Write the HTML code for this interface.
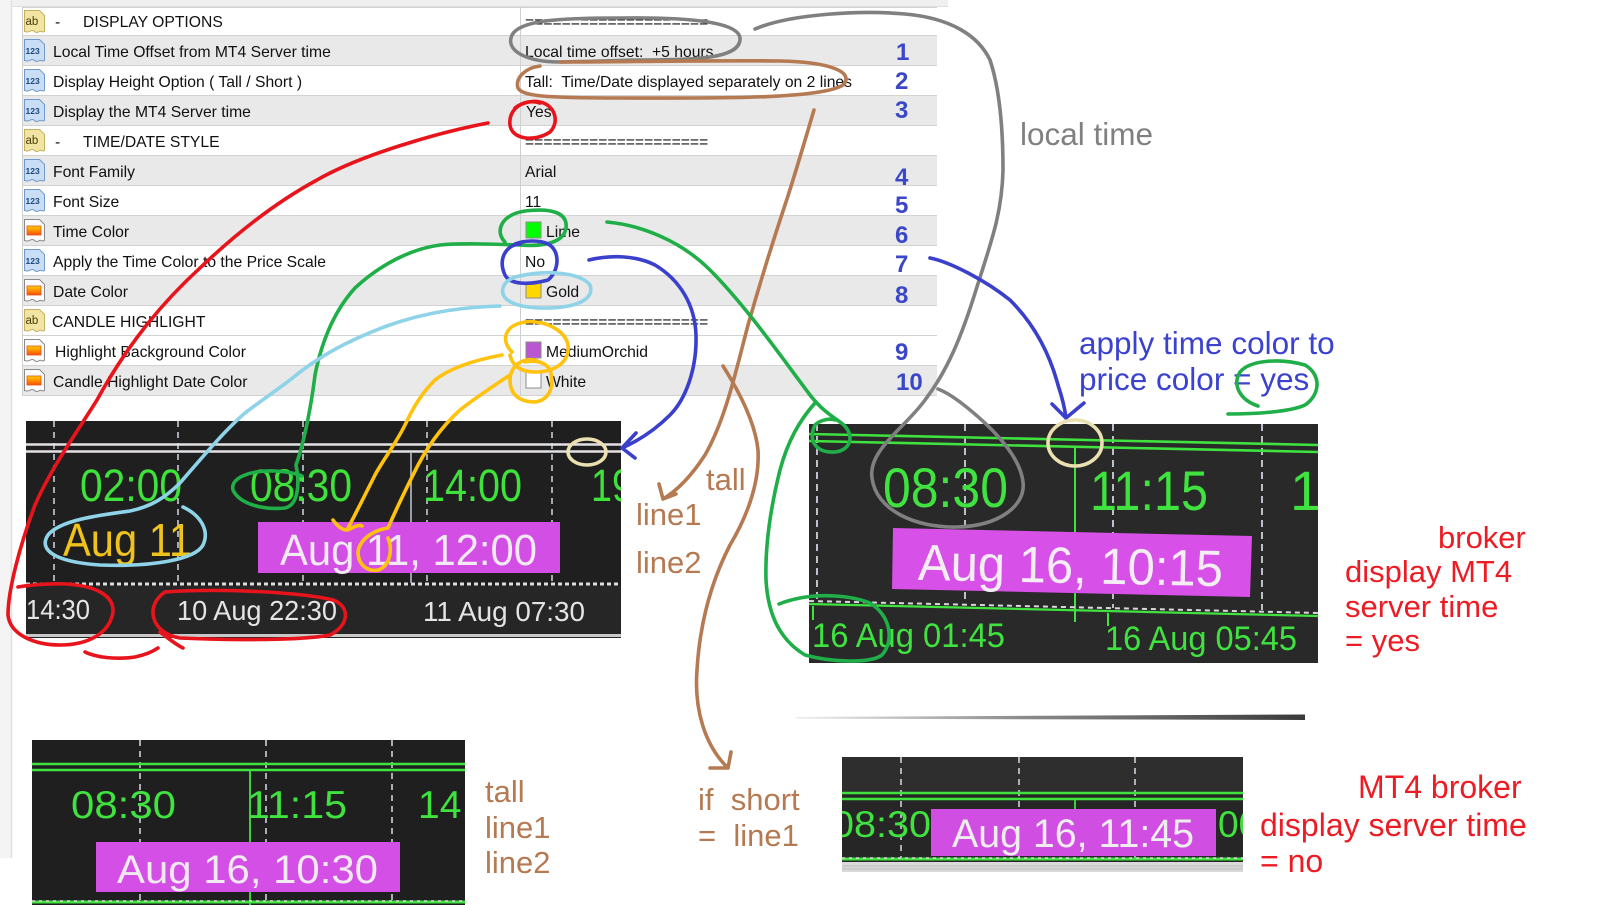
<!DOCTYPE html>
<html><head><meta charset="utf-8">
<style>
html,body{margin:0;padding:0;background:#fff;width:1612px;height:905px;overflow:hidden}
svg{display:block}
text{font-family:"Liberation Sans",Arial,sans-serif}
</style></head><body>
<svg width="1612" height="905" viewBox="0 0 1612 905" xmlns="http://www.w3.org/2000/svg">
<defs>
<linearGradient id="og" x1="0" y1="0" x2="0" y2="1"><stop offset="0" stop-color="#ffd400"/><stop offset="1" stop-color="#ff4a00"/></linearGradient>
<linearGradient id="dv" x1="0" x2="1"><stop offset="0" stop-color="#eeeeee"/><stop offset="0.45" stop-color="#8a8a8a"/><stop offset="1" stop-color="#3a3a3a"/></linearGradient>
<clipPath id="c1"><rect x="26" y="421" width="595" height="217"/></clipPath>
<clipPath id="c2"><rect x="809" y="424" width="509" height="239"/></clipPath>
<clipPath id="c3"><rect x="32" y="740" width="433" height="165"/></clipPath>
<clipPath id="c4"><rect x="842" y="757" width="401" height="115"/></clipPath>
</defs>

<!-- page chrome -->
<rect x="0" y="0" width="11" height="858" fill="#f4f4f4"/>
<path d="M11.5 0V858" stroke="#e0e0e0" stroke-width="1.5"/>
<rect x="12" y="0" width="936" height="6" fill="#f0f0f0"/>
<path d="M12 6.5H948" stroke="#dedede"/>

<!-- table rows -->
<g>
<rect x="22" y="35" width="915" height="30" fill="#e9e9e9"/>
<rect x="22" y="95" width="915" height="30" fill="#e9e9e9"/>
<rect x="22" y="155" width="915" height="30" fill="#e9e9e9"/>
<rect x="22" y="215" width="915" height="30" fill="#e9e9e9"/>
<rect x="22" y="275" width="915" height="30" fill="#e9e9e9"/>
<rect x="22" y="365" width="915" height="30" fill="#e9e9e9"/>
<path d="M22 7.5H937M22 35.5H937M22 65.5H937M22 95.5H937M22 125.5H937M22 155.5H937M22 185.5H937M22 215.5H937M22 245.5H937M22 275.5H937M22 305.5H937M22 335.5H937M22 365.5H937M22 395.5H937" stroke="#d2d2d2" stroke-width="1"/>
<path d="M22.5 7V395M520.5 7V395" stroke="#cfcfcf" stroke-width="1"/>
</g>

<!-- icons -->
<g>
<g transform="translate(23,9)"><path d="M1.5 1.5h15l5 5v16c-2 1.5-3.5-1-5 0s-3.5 1.5-5 0-3.5-1-5 0-3 .5-5 0z" fill="#f1e5a3" stroke="#c5b060"/><text x="2.5" y="16" font-size="11.5" fill="#4a3c08">ab</text></g>
<g transform="translate(23,128)"><path d="M1.5 1.5h15l5 5v16c-2 1.5-3.5-1-5 0s-3.5 1.5-5 0-3.5-1-5 0-3 .5-5 0z" fill="#f1e5a3" stroke="#c5b060"/><text x="2.5" y="16" font-size="11.5" fill="#4a3c08">ab</text></g>
<g transform="translate(23,308)"><path d="M1.5 1.5h15l5 5v16c-2 1.5-3.5-1-5 0s-3.5 1.5-5 0-3.5-1-5 0-3 .5-5 0z" fill="#f1e5a3" stroke="#c5b060"/><text x="2.5" y="16" font-size="11.5" fill="#4a3c08">ab</text></g>
<g transform="translate(23,38)"><path d="M1.5 1.5h15l5 5v16c-2 1.5-3.5-1-5 0s-3.5 1.5-5 0-3.5-1-5 0-3 .5-5 0z" fill="#c9def4" stroke="#6f9acb"/><text x="2.5" y="16" font-size="8.5" font-weight="bold" fill="#1d4780">123</text></g>
<g transform="translate(23,68)"><path d="M1.5 1.5h15l5 5v16c-2 1.5-3.5-1-5 0s-3.5 1.5-5 0-3.5-1-5 0-3 .5-5 0z" fill="#c9def4" stroke="#6f9acb"/><text x="2.5" y="16" font-size="8.5" font-weight="bold" fill="#1d4780">123</text></g>
<g transform="translate(23,98)"><path d="M1.5 1.5h15l5 5v16c-2 1.5-3.5-1-5 0s-3.5 1.5-5 0-3.5-1-5 0-3 .5-5 0z" fill="#c9def4" stroke="#6f9acb"/><text x="2.5" y="16" font-size="8.5" font-weight="bold" fill="#1d4780">123</text></g>
<g transform="translate(23,158)"><path d="M1.5 1.5h15l5 5v16c-2 1.5-3.5-1-5 0s-3.5 1.5-5 0-3.5-1-5 0-3 .5-5 0z" fill="#c9def4" stroke="#6f9acb"/><text x="2.5" y="16" font-size="8.5" font-weight="bold" fill="#1d4780">123</text></g>
<g transform="translate(23,188)"><path d="M1.5 1.5h15l5 5v16c-2 1.5-3.5-1-5 0s-3.5 1.5-5 0-3.5-1-5 0-3 .5-5 0z" fill="#c9def4" stroke="#6f9acb"/><text x="2.5" y="16" font-size="8.5" font-weight="bold" fill="#1d4780">123</text></g>
<g transform="translate(23,248)"><path d="M1.5 1.5h15l5 5v16c-2 1.5-3.5-1-5 0s-3.5 1.5-5 0-3.5-1-5 0-3 .5-5 0z" fill="#c9def4" stroke="#6f9acb"/><text x="2.5" y="16" font-size="8.5" font-weight="bold" fill="#1d4780">123</text></g>
<g transform="translate(23,218)"><path d="M1.5 1.5h15l5 5v16c-2 1.5-3.5-1-5 0s-3.5 1.5-5 0-3.5-1-5 0-3 .5-5 0z" fill="#fbfbfb" stroke="#8a8a8a"/><rect x="4" y="8" width="14" height="9" fill="url(#og)" stroke="#e0541a" stroke-width="0.8"/></g>
<g transform="translate(23,278)"><path d="M1.5 1.5h15l5 5v16c-2 1.5-3.5-1-5 0s-3.5 1.5-5 0-3.5-1-5 0-3 .5-5 0z" fill="#fbfbfb" stroke="#8a8a8a"/><rect x="4" y="8" width="14" height="9" fill="url(#og)" stroke="#e0541a" stroke-width="0.8"/></g>
<g transform="translate(23,338)"><path d="M1.5 1.5h15l5 5v16c-2 1.5-3.5-1-5 0s-3.5 1.5-5 0-3.5-1-5 0-3 .5-5 0z" fill="#fbfbfb" stroke="#8a8a8a"/><rect x="4" y="8" width="14" height="9" fill="url(#og)" stroke="#e0541a" stroke-width="0.8"/></g>
<g transform="translate(23,368)"><path d="M1.5 1.5h15l5 5v16c-2 1.5-3.5-1-5 0s-3.5 1.5-5 0-3.5-1-5 0-3 .5-5 0z" fill="#fbfbfb" stroke="#8a8a8a"/><rect x="4" y="8" width="14" height="9" fill="url(#og)" stroke="#e0541a" stroke-width="0.8"/></g>
</g>

<!-- labels -->
<g font-size="15.7" fill="#111">
<text x="55" y="27">-</text><text x="83" y="27">DISPLAY OPTIONS</text>
<text x="53" y="57">Local Time Offset from MT4 Server time</text>
<text x="53" y="87">Display Height Option ( Tall / Short )</text>
<text x="53" y="117">Display the MT4 Server time</text>
<text x="55" y="147">-</text><text x="83" y="147">TIME/DATE STYLE</text>
<text x="53" y="177">Font Family</text>
<text x="53" y="207">Font Size</text>
<text x="53" y="237">Time Color</text>
<text x="53" y="267">Apply the Time Color to the Price Scale</text>
<text x="53" y="297">Date Color</text>
<text x="52" y="327">CANDLE HIGHLIGHT</text>
<text x="55" y="357">Highlight Background Color</text>
<text x="53" y="387">Candle Highlight Date Color</text>
</g>
<!-- values -->
<g font-size="15.7" fill="#111">
<text x="525" y="27">====================</text>
<text x="525" y="57">Local time offset:&#160; +5 hours</text>
<text x="525" y="87">Tall:&#160; Time/Date displayed separately on 2 lines</text>
<text x="526" y="117">Yes</text>
<text x="525" y="147">====================</text>
<text x="525" y="177">Arial</text>
<text x="525" y="207">11</text>
<rect x="526" y="222" width="15" height="16" fill="#00ff00" stroke="#8c8c8c"/><text x="546" y="237">Lime</text>
<text x="525" y="267">No</text>
<rect x="526" y="282" width="15" height="16" fill="#ffd700" stroke="#8c8c8c"/><text x="546" y="297">Gold</text>
<text x="525" y="327">====================</text>
<rect x="526" y="342" width="15" height="16" fill="#ba55d3" stroke="#8c8c8c"/><text x="546" y="357">MediumOrchid</text>
<rect x="526" y="372" width="15" height="16" fill="#ffffff" stroke="#8c8c8c"/><text x="546" y="387">White</text>
</g>
<!-- numbers -->
<g font-size="24" font-weight="bold" fill="#3b47c9">
<text x="896" y="60">1</text>
<text x="895" y="89">2</text>
<text x="895" y="118">3</text>
<text x="895" y="185">4</text>
<text x="895" y="213">5</text>
<text x="895" y="243">6</text>
<text x="895" y="272">7</text>
<text x="895" y="303">8</text>
<text x="895" y="360">9</text>
<text x="896" y="390">10</text>
</g>

<!-- CHART 1 -->
<g clip-path="url(#c1)">
<rect x="26" y="421" width="595" height="217" fill="#1f1f1f"/>
<rect x="26" y="586" width="595" height="52" fill="#262626"/>
<path d="M54 421V583M178 421V583M303 421V583M427 421V583M552 421V583" stroke="#c9ccd8" stroke-width="1.6" stroke-dasharray="6 5"/>
<path d="M411 453V583" stroke="#b8bccc" stroke-width="1.6"/>
<path d="M26 444.5H621M26 451.5H621" stroke="#e4e0e4" stroke-width="2.6"/>
<g font-size="45" fill="#3ee23a">
<text x="80" y="501" textLength="102" lengthAdjust="spacingAndGlyphs">02:00</text>
<text x="250" y="501" textLength="102" lengthAdjust="spacingAndGlyphs">08:30</text>
<text x="423" y="501" textLength="99" lengthAdjust="spacingAndGlyphs">14:00</text>
<text x="591" y="501" textLength="42" lengthAdjust="spacingAndGlyphs">19</text>
</g>
<text x="63" y="556" font-size="46" fill="#f0c21c" textLength="129" lengthAdjust="spacingAndGlyphs">Aug 11</text>
<rect x="258" y="522" width="302" height="51" fill="#d24ee4"/>
<text x="280" y="565" font-size="44" fill="#f2eaf2" textLength="257" lengthAdjust="spacingAndGlyphs">Aug 11, 12:00</text>
<path d="M26 584H621" stroke="#dddddd" stroke-width="3" stroke-dasharray="4 3"/>
<g font-size="28" fill="#e4e4e4">
<text x="26" y="619" textLength="64" lengthAdjust="spacingAndGlyphs">14:30</text>
<text x="177" y="620" textLength="160" lengthAdjust="spacingAndGlyphs">10 Aug 22:30</text>
<text x="423" y="621" textLength="162" lengthAdjust="spacingAndGlyphs">11 Aug 07:30</text>
</g>
<path d="M26 635.5H621" stroke="#c8c8c8" stroke-width="3"/>
</g>

<!-- CHART 2 -->
<g clip-path="url(#c2)">
<rect x="809" y="424" width="509" height="239" fill="#292929"/>
<path d="M817 424V605M965 424V605M1113 424V608M1262 424V610" stroke="#cdd0dc" stroke-width="1.8" stroke-dasharray="7 5"/>
<path d="M809 434L1318 445M809 441L1318 452" stroke="#3fe23f" stroke-width="2.6"/>
<path d="M1075 448V612" stroke="#3fe23f" stroke-width="2"/>
<g font-size="56" fill="#3fe23f">
<text x="883" y="507" textLength="125" lengthAdjust="spacingAndGlyphs">08:30</text>
<text x="1090" y="510" textLength="118" lengthAdjust="spacingAndGlyphs">11:15</text>
<text x="1290" y="510">14</text>
</g>
<polygon points="893,528 1252,536 1250,597 892,589" fill="#d750e8"/>
<text x="918" y="583" font-size="51" fill="#f4eef4" textLength="305" lengthAdjust="spacingAndGlyphs" transform="rotate(1.2 1070 565)">Aug 16, 10:15</text>
<path d="M809 604L1318 616" stroke="#3fe23f" stroke-width="2.2"/>
<path d="M809 601L1318 613" stroke="#d8d8d8" stroke-width="2" stroke-dasharray="5 4"/>
<path d="M813 606V620M1075 612V622M1108 613V626" stroke="#3fe23f" stroke-width="2"/>
<g font-size="34" fill="#3fe23f">
<text x="812" y="647" textLength="193" lengthAdjust="spacingAndGlyphs">16 Aug 01:45</text>
<text x="1105" y="650" textLength="192" lengthAdjust="spacingAndGlyphs">16 Aug 05:45</text>
</g>
</g>

<!-- CHART 3 -->
<g clip-path="url(#c3)">
<rect x="32" y="740" width="433" height="165" fill="#1f1f1f"/>
<path d="M140 740V900M266 740V900M392 740V900" stroke="#cdd0dc" stroke-width="1.6" stroke-dasharray="6 5"/>
<path d="M32 764H465M32 770H465" stroke="#3fe23f" stroke-width="2.6"/>
<path d="M250 770V905" stroke="#3fe23f" stroke-width="1.8"/>
<g font-size="39" fill="#3fe23f">
<text x="71" y="818" textLength="105" lengthAdjust="spacingAndGlyphs">08:30</text>
<text x="247" y="818" textLength="100" lengthAdjust="spacingAndGlyphs">11:15</text>
<text x="418" y="818">14.</text>
</g>
<rect x="96" y="842" width="304" height="50" fill="#d34fe5"/>
<text x="117" y="883" font-size="40" fill="#f0eaf0" textLength="261" lengthAdjust="spacingAndGlyphs">Aug 16, 10:30</text>
<path d="M32 902H465" stroke="#3fe23f" stroke-width="3"/>
<path d="M32 901H465" stroke="#dddddd" stroke-width="1.5" stroke-dasharray="3 4"/>
</g>

<!-- CHART 4 -->
<g clip-path="url(#c4)">
<rect x="842" y="757" width="401" height="115" fill="#262626"/>
<rect x="842" y="757" width="401" height="35" fill="#2e2e2e"/>
<path d="M901 757V858M1019 757V858M1135 757V858" stroke="#cdd0dc" stroke-width="1.6" stroke-dasharray="6 5"/>
<path d="M842 793H1243M842 799H1243" stroke="#3fe23f" stroke-width="2.6"/>
<path d="M1075 799V810" stroke="#3fe23f" stroke-width="1.8"/>
<text x="832" y="837" font-size="37" fill="#3fe23f" textLength="99" lengthAdjust="spacingAndGlyphs">08:30</text>
<rect x="931" y="809" width="285" height="47" fill="#d04fe2"/>
<text x="952" y="847" font-size="40" fill="#eeeeee" textLength="242" lengthAdjust="spacingAndGlyphs">Aug 16, 11:45</text>
<text x="1218" y="837" font-size="37" fill="#3fe23f">00</text>
<path d="M842 859H1243" stroke="#3fe23f" stroke-width="3"/>
<path d="M842 858H1243" stroke="#dddddd" stroke-width="1.5" stroke-dasharray="3 4"/>
<rect x="842" y="862" width="401" height="10" fill="#d9d9d9"/>
<path d="M842 866H1243M842 869H1243" stroke="#bdbdbd" stroke-width="1"/>
</g>

<!-- divider -->
<polygon points="796,717 1305,714.5 1305,720 796,718.6" fill="url(#dv)"/>

<!-- annotation texts -->
<text x="1020" y="145" font-size="31.5" fill="#808080">local time</text>
<g font-size="31.5" fill="#3a42cf">
<text x="1079" y="354">apply time color to</text>
<text x="1079" y="390">price color = yes</text>
</g>
<g font-size="31" fill="#b57a52">
<text x="706" y="490">tall</text>
<text x="636" y="525">line1</text>
<text x="636" y="573">line2</text>
<text x="485" y="802">tall</text>
<text x="485" y="838">line1</text>
<text x="485" y="873">line2</text>
<text x="698" y="810">if&#160; short</text>
<text x="698" y="846">=&#160; line1</text>
</g>
<g font-size="31" fill="#ec1c24">
<text x="1438" y="548">broker</text>
<text x="1345" y="582">display MT4</text>
<text x="1345" y="617">server time</text>
<text x="1345" y="651">= yes</text>
<text x="1358" y="798" font-size="32">MT4 broker</text>
<text x="1260" y="836" font-size="32">display server time</text>
<text x="1260" y="872" font-size="32">= no</text>
</g>

<!-- hand-drawn annotations -->
<g fill="none" stroke-linecap="round" stroke-linejoin="round" stroke-width="3.6">
<path stroke="#808080" d="M560 62 C525 62,505 50,512 35 C520 20,560 18,620 18 C690 17,742 22,740 40 C738 58,700 60,640 60 C600 61,575 62,555 62"/>
<path stroke="#808080" d="M755 29 C790 14,860 10,905 14 C950 18,978 35,990 60 C1000 90,1003 130,1003 170 C1002 215,990 245,976 290 C962 335,948 370,925 400 C905 428,868 450,872 478 C876 510,915 528,957 527 C1000 526,1026 505,1023 482 C1020 455,990 425,960 402 C952 396,946 392,938 389"/>
<path stroke="#b57a52" d="M540 66 C525 68,515 78,518 88 C522 96,545 98,620 98 C700 98,820 100,843 85 C855 72,830 62,780 61 C720 60,620 62,560 62"/>
<path stroke="#b57a52" d="M814 110 C805 140,795 175,785 205 C770 250,758 290,748 325 C735 375,725 420,705 455 C692 475,678 490,663 499 M663 499 L659 484 M663 499 L676 494"/>
<path stroke="#b57a52" d="M723 366 C735 385,755 420,758 450 C760 485,745 520,730 545 C712 580,700 620,697 670 C694 710,705 745,727 767 M710 768 L728 768 L731 752"/>
<path stroke="#e8141c" d="M540 103 C525 98,508 108,510 125 C512 140,535 142,550 132 C560 122,555 105,540 102 C530 100,520 104,515 108"/>
<path stroke="#e8141c" d="M488 123 C440 132,360 155,317 180 C280 200,240 230,201 267 C165 300,130 340,97 400 C75 435,50 470,35 505 C20 545,8 590,8 615 C10 635,35 645,60 645 C90 645,110 632,113 612 C114 595,95 586,67 584 C45 583,30 585,18 587"/>
<path stroke="#e8141c" d="M165 592 C220 588,300 592,333 600 C350 606,350 625,330 635 C300 641,220 640,180 638 C150 633,145 605,165 592 M160 632 C168 638,175 644,183 648 M85 652 C95 657,115 660,135 657 C145 655,152 652,158 648"/>
<path stroke="#1fae47" d="M505 242 C495 232,500 215,525 211 C550 208,568 212,566 228 C564 242,545 247,520 245 C490 244,460 243,440 245 C410 249,380 265,355 288 C335 310,322 340,315 375 C312 400,305 440,296 465 C300 485,298 505,285 508 C265 510,240 505,233 490 C230 478,250 470,275 471 C290 472,298 474,302 476"/>
<path stroke="#1fae47" d="M607 222 C640 225,680 240,710 270 C745 305,780 355,810 395 C820 408,830 415,840 422 C855 432,853 450,835 452 C815 453,808 440,815 425 C820 420,830 418,835 420"/>
<path stroke="#1fae47" d="M815 403 C800 420,788 440,780 470 C770 510,765 545,766 580 C768 615,780 640,805 655 C830 662,870 664,882 655 C895 640,890 615,870 603 C850 595,820 594,800 598 C790 600,784 602,779 604"/>
<path stroke="#1fae47" d="M1258 406 C1240 400,1232 385,1240 372 C1250 360,1280 358,1305 365 C1322 375,1320 395,1305 405 C1290 412,1255 414,1228 414"/>
<path stroke="#3a3fcc" d="M520 244 C505 245,498 260,505 275 C510 285,530 285,548 280 C560 270,560 250,548 244 C540 240,525 240,515 244"/>
<path stroke="#3a3fcc" d="M589 260 C610 255,635 255,655 265 C680 280,695 305,696 335 C697 370,685 400,670 415 C655 430,640 440,622 448 M622 448 L636 433 M622 448 L635 458"/>
<path stroke="#3a3fcc" d="M930 258 C950 262,985 280,1010 300 C1035 325,1050 355,1058 385 C1063 400,1065 410,1066 418 M1052 404 L1066 418 L1084 403"/>
<path stroke="#8fd3e8" d="M520 276 C545 270,580 272,590 285 C595 300,575 308,545 308 C515 308,500 300,503 288 C505 280,515 276,525 275"/>
<path stroke="#8fd3e8" d="M500 306 C470 307,430 310,384 327 C350 340,320 355,290 380 C270 395,255 405,245 413 C225 430,200 460,180 483 C165 498,150 507,130 511 C100 515,60 520,48 535 C38 550,55 562,100 565 C150 567,195 560,203 545 C210 530,200 515,183 507"/>
<path stroke="#ffc20e" d="M512 352 C500 340,505 325,525 322 C545 320,565 330,568 345 C570 362,555 372,535 372 C520 372,512 365,510 355"/>
<path stroke="#ffc20e" d="M540 362 C525 355,510 365,510 380 C510 395,520 402,535 402 C550 400,555 385,550 370 C546 362,535 360,525 362"/>
<path stroke="#ffc20e" d="M502 355 C475 360,450 368,435 380 C420 395,412 410,405 425 C395 445,383 460,375 475 C365 495,355 515,347 530 M333 520 C338 527,343 530,347 530 C353 528,358 524,362 526"/>
<path stroke="#ffc20e" d="M510 375 C495 385,475 398,460 410 C440 428,425 450,413 475 C403 495,395 512,388 528 C375 530,360 538,358 552 C358 565,368 572,378 570 C390 566,393 550,388 538"/>
<ellipse cx="587" cy="452" rx="19" ry="13" stroke="#ebe0b0"/>
<ellipse cx="1075" cy="443" rx="27" ry="23" stroke="#ebe0b0"/>
</g>
</svg>
</body></html>
